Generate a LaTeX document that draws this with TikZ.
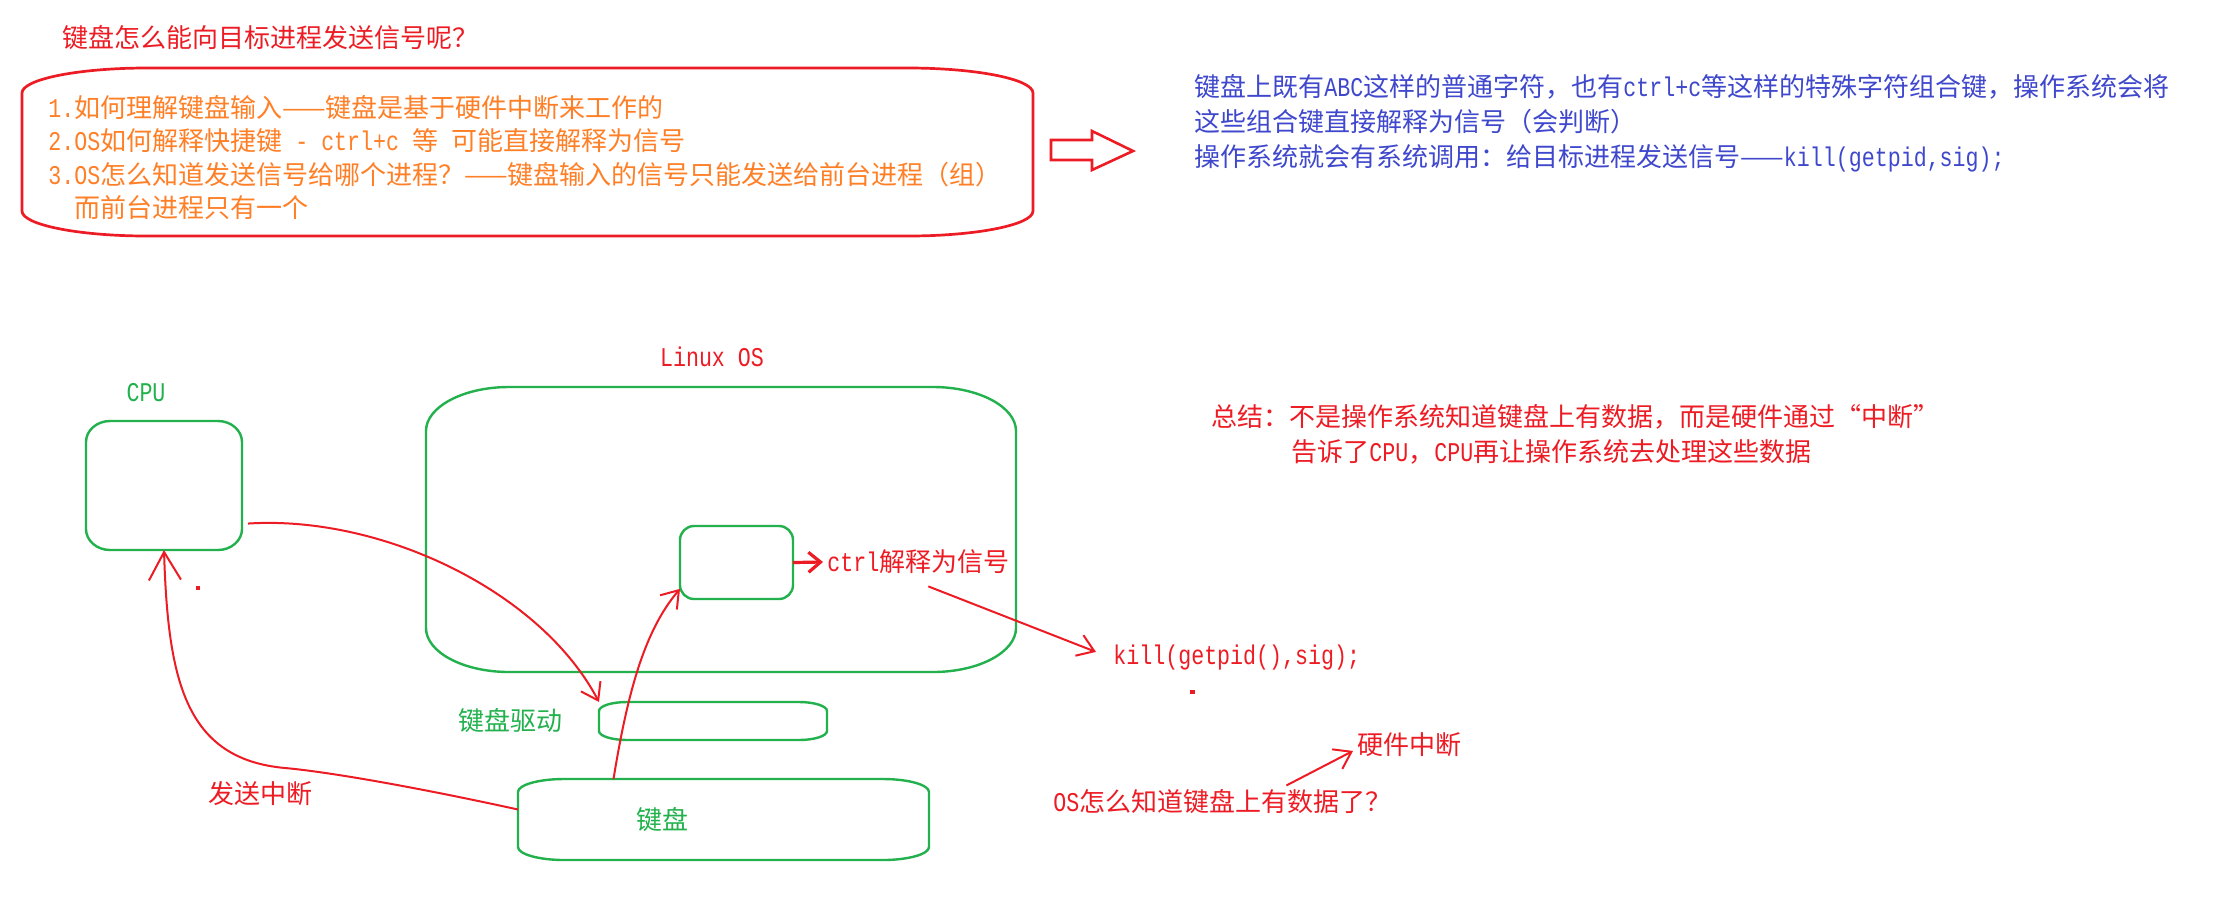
\documentclass[tikz,border=0pt]{standalone}
\usepackage{fontspec}
\setmainfont{Noto Sans CJK SC}
\setmonofont{Liberation Mono}[Scale=1.04,FakeStretch=0.8]
\usetikzlibrary{arrows.meta}
\usetikzlibrary{calc, positioning}

\definecolor{penred}{RGB}{237,28,36}
\definecolor{penorange}{RGB}{255,127,39}
\definecolor{pengreen}{RGB}{34,177,76}
\definecolor{penblue}{RGB}{63,72,204}

\tikzset{
  area/.style={draw=none,inner sep=0pt,outer sep=0pt},
  note/.style={inner sep=2pt,anchor=west,align=left,font=\fontsize{13pt}{17.5pt}\selectfont},
  code/.style={note,font=\fontsize{13pt}{16pt}\ttfamily},
  sig/.style={draw=penred,line width=1pt,-{Straight Barb[length=8pt,width=11pt]}},
  gline/.style={draw=pengreen,line width=1.2pt},
}

% box with elliptic corners round a named node: node, x radius, y radius
\newcommand{\ovalframe}[4][]{%
  \draw[#1] ($(#2.north west)+(#3,0)$) -- ($(#2.north east)+(-#3,0)$)
    .. controls ($(#2.north east)+({-0.45*#3},0)$) and ($(#2.north east)+(0,{0.45*#4})$) .. ($(#2.north east)+(0,#4)$)
    -- ($(#2.south east)+(0,-#4)$)
    .. controls ($(#2.south east)+(0,{-0.45*#4})$) and ($(#2.south east)+({-0.45*#3},0)$) .. ($(#2.south east)+(-#3,0)$)
    -- ($(#2.south west)+(#3,0)$)
    .. controls ($(#2.south west)+({0.45*#3},0)$) and ($(#2.south west)+(0,{-0.45*#4})$) .. ($(#2.south west)+(0,-#4)$)
    -- ($(#2.north west)+(0,#4)$)
    .. controls ($(#2.north west)+(0,{0.45*#4})$) and ($(#2.north west)+({0.45*#3},0)$) .. ($(#2.north west)+(#3,0)$)
    -- cycle;}

\begin{document}
\begin{tikzpicture}[x=0.5pt,y=-0.5pt]
\fill[white] (0,0) rectangle (2213,896);
\useasboundingbox (0,0) rectangle (2213,896);

% questions
\node[note,text=penred] (title) at (58,38) {键盘怎么能向目标进程发送信号呢？};
\node[area,minimum width=505.5pt,minimum height=84pt] (qframe) at (527.5,152) {};
\ovalframe[draw=penred,line width=1.35pt]{qframe}{125}{25}
\node[note,text=penorange,font=\fontsize{13pt}{16.8pt}\selectfont] (qlist) at (44,157.5) {\texttt{1.}如何理解键盘输入——键盘是基于硬件中断来工作的\\
\texttt{2.OS}如何解释快捷键\texttt{ - ctrl+c }等\texttt{ }可能直接解释为信号\\
\texttt{3.OS}怎么知道发送信号给哪个进程？——键盘输入的信号只能发送给前台进程（组）\\
\hspace*{13pt}而前台进程只有一个};

\draw[penred,line width=1.3pt] (1051,140) -- (1092,140) -- (1092,131) -- (1133,151) -- (1092,170) -- (1092,160) -- (1051,160) -- cycle;

\node[note,text=penblue] (keys) at (1190,123) {键盘上既有\texttt{ABC}这样的普通字符，也有\texttt{ctrl+c}等这样的特殊字符组合键，操作系统会将\\
这些组合键直接解释为信号（会判断）\\
操作系统就会有系统调用：给目标进程发送信号——\texttt{kill(getpid,sig);}};

% hardware and os
\node[area,minimum width=78pt,minimum height=64.5pt] (cpu) at (164,485.5) {};
\node[area,minimum width=295pt,minimum height=142.5pt] (linux) at (721,529.5) {};
\node[area,minimum width=56.5pt,minimum height=36.5pt] (sigbox) at (736.5,562.5) {};
\node[area,minimum width=114pt,minimum height=19pt] (driver) at (713,721) {};
\node[area,minimum width=205.5pt,minimum height=40.5pt] (kbd) at (723.5,819.5) {};
\ovalframe[gline]{cpu}{24}{21}
\ovalframe[gline]{linux}{83}{44}
\ovalframe[gline]{sigbox}{14}{14}
\ovalframe[gline]{driver}{28}{9}
\ovalframe[gline]{kbd}{46}{13}

\node[code,text=pengreen,above=7.5pt of cpu,xshift=-9pt] (cpulbl) {CPU};
\node[code,text=penred,above=8pt of linux,xshift=-4.5pt] (oslbl) {Linux OS};
\node[note,text=pengreen,left=16pt of driver] (drvlbl) {键盘驱动};
\node[note,text=pengreen] (kbdlbl) at (632,820) {键盘};
\node[note,text=penred] (ctrllbl) at (823,562) {\texttt{ctrl}解释为信号};
\node[code,text=penred] (kill) at (1109,657) {kill(getpid(),sig);};
\node[note,text=penred] (irqlbl) at (204,794) {发送中断};
\node[note,text=penred] (summary) at (1207,434.5) {总结：不是操作系统知道键盘上有数据，而是硬件通过“中断”\\
\hspace*{40pt}告诉了\texttt{CPU}，\texttt{CPU}再让操作系统去处理这些数据};
\node[note,text=penred] (hwint) at (1353,745) {硬件中断};
\node[note,text=penred] (osq) at (1049,802) {\texttt{OS}怎么知道键盘上有数据了？};

\draw[sig] ([xshift=3pt]cpu.-26) .. controls (380,515) and (540,590) .. (driver.north west);
\draw[sig,-{Straight Barb[length=14pt,width=16pt]}] ([yshift=5pt]kbd.west) .. controls (420,788) and (330,772) .. (285,768) .. controls (185,759) and (168,680) .. (cpu.south);
\draw[sig] ([xshift=-55pt]kbd.north) .. controls (628,690) and (645,630) .. (sigbox.-155);
\draw[sig,line width=1.6pt,-{Straight Barb[length=6pt,width=10pt]}] (sigbox.east) -- (ctrllbl.west);
\draw[sig,shorten >=7pt] ([shift={(5pt,-4pt)}]ctrllbl.south) -- (kill.west);
\draw[sig] ([xshift=32pt]osq.north) -- (hwint.-174);

\fill[penred] (196,586) rectangle (200,590);
\fill[penred] (1190,690) rectangle (1195,694);

\end{tikzpicture}
\end{document}
